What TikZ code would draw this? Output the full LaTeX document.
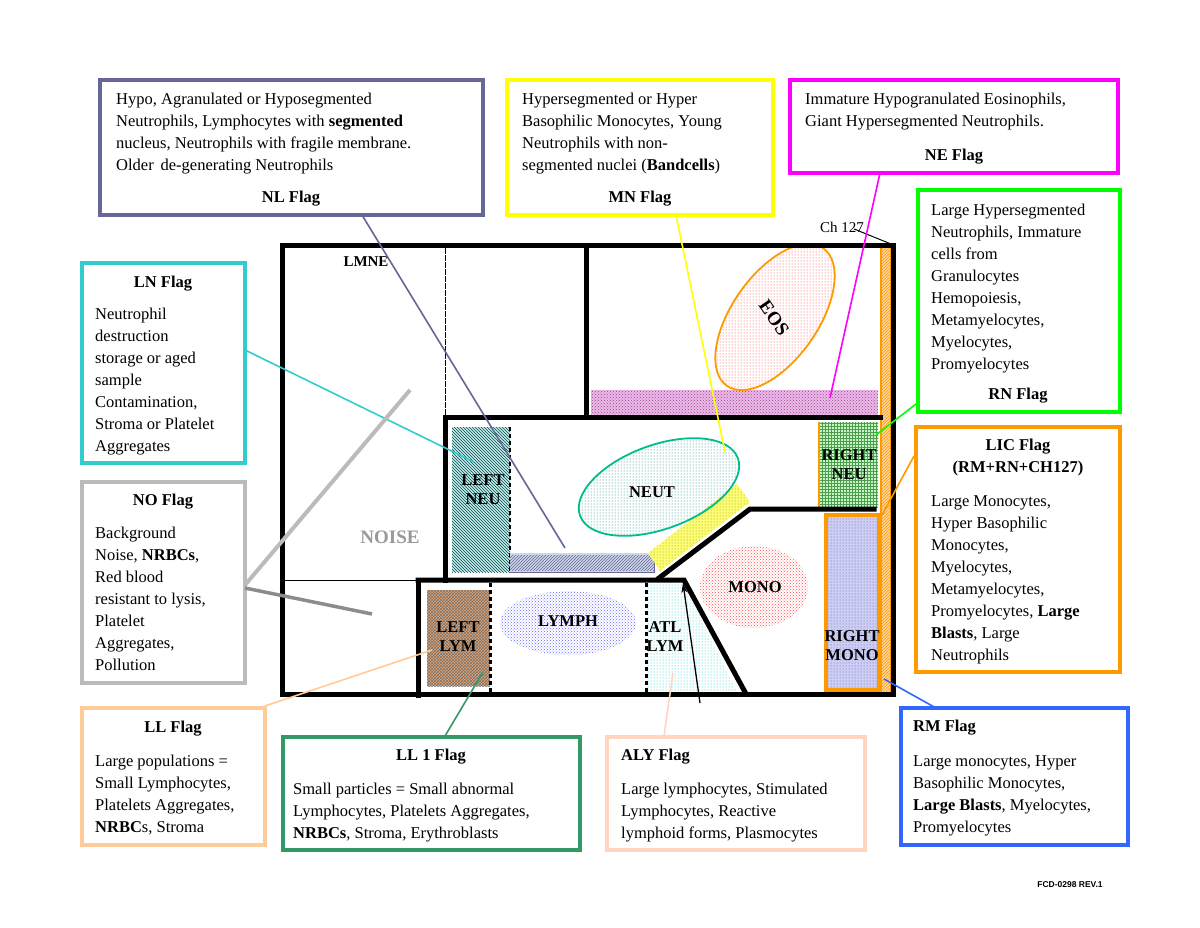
\documentclass[tikz,border=0pt]{standalone}
\usepackage{fontspec}
\setmainfont{Liberation Serif}
\newfontfamily\sansf{Liberation Sans}
\usetikzlibrary{patterns,arrows.meta,shapes.geometric}
\definecolor{cNL}{HTML}{666699}
\definecolor{cMN}{HTML}{FFFF00}
\definecolor{cNE}{HTML}{FF00FF}
\definecolor{cRN}{HTML}{00FF00}
\definecolor{cLIC}{HTML}{FF9900}
\definecolor{cRM}{HTML}{3366FF}
\definecolor{cLN}{HTML}{33CCCC}
\definecolor{cNO}{HTML}{BBBBBB}
\definecolor{cLL}{HTML}{FFCC99}
\definecolor{cLLone}{HTML}{339966}
\definecolor{cALY}{HTML}{FFD5C0}
\definecolor{fPink}{HTML}{F5B4F0}
\definecolor{fRN}{HTML}{C8F5C8}
\definecolor{fLN}{HTML}{C8EBEB}
\definecolor{fBar}{HTML}{CDD7E6}
\definecolor{fYel}{HTML}{FFFF6E}
\definecolor{cNeut}{HTML}{00BE8C}
\definecolor{fRM}{HTML}{CDCDFA}
\definecolor{fStrip}{HTML}{FFD7A0}
\definecolor{fLL}{HTML}{EBA46A}
\begin{document}
\begin{tikzpicture}[x=1pt,y=-1pt,
  fbox/.style={draw=#1,line width=4.5pt,inner sep=0,fill=white},
  txt/.style={anchor=north west,align=left,inner sep=0,font=\fontsize{16.5}{22}\selectfont},
  ttl/.style={inner sep=0,font=\fontsize{16.5}{22}\selectfont\bfseries},
  lab/.style={inner sep=0,align=center,font=\fontsize{16.5}{19}\selectfont\bfseries},
  lead/.style={draw=#1,line width=1.6pt},
  thick line/.style={line width=5pt,line cap=rect},
  dashv/.style={line width=3pt,dash pattern=on 4pt off 3pt}]
\useasboundingbox (0,0) rectangle (1200,927);
\fill[white] (0,0) rectangle (1200,927);

% ---------- flag boxes ----------
\node[fbox=cNL,minimum width=383,minimum height=135] (NL) at (291.5,147.5) {};
\node[txt] at (116,93) {Hypo, Agranulated or Hyposegmented\\Neutrophils, Lymphocytes with \textbf{segmented}\\nucleus, Neutrophils with fragile membrane.\\Older\, de-generating Neutrophils};
\node[ttl] at (291,199) {NL Flag};

\node[fbox=cMN,minimum width=266,minimum height=135] (MN) at (640,147.5) {};
\node[txt] at (522,93) {Hypersegmented or Hyper\\Basophilic Monocytes, Young\\Neutrophils with non-\\segmented nuclei (\textbf{Bandcells})};
\node[ttl] at (640,199) {MN Flag};

\node[fbox=cNE,minimum width=328,minimum height=93] (NE) at (954,126.5) {};
\node[txt] at (805,93) {Immature Hypogranulated Eosinophils,\\Giant Hypersegmented Neutrophils.};
\node[ttl] at (954,157) {NE Flag};

\node[fbox=cRN,minimum width=202,minimum height=222] (RN) at (1019,301) {};
\node[txt] at (931,204) {Large Hypersegmented\\Neutrophils, Immature\\cells from\\Granulocytes\\Hemopoiesis,\\Metamyelocytes,\\Myelocytes,\\Promyelocytes};
\node[ttl] at (1018,396) {RN Flag};

\node[fbox=cLIC,minimum width=204,minimum height=245] (LIC) at (1018,549.5) {};
\node[ttl] at (1018,447) {LIC Flag};
\node[ttl] at (1018,469) {(RM+RN+CH127)};
\node[txt] at (931,495) {Large Monocytes,\\Hyper Basophilic\\Monocytes,\\Myelocytes,\\Metamyelocytes,\\Promyelocytes, \textbf{Large}\\\textbf{Blasts}, Large\\Neutrophils};

\node[fbox=cRM,minimum width=227,minimum height=137] (RM) at (1014.5,776.5) {};
\node[ttl,anchor=west] at (913,728) {RM Flag};
\node[txt] at (913,755) {Large monocytes, Hyper\\Basophilic Monocytes,\\\textbf{Large Blasts}, Myelocytes,\\Promyelocytes};

\node[fbox=cLN,minimum width=163,minimum height=200] (LN) at (163.5,363) {};
\node[ttl] at (163,284) {LN Flag};
\node[txt] at (95,308) {Neutrophil\\destruction\\storage or aged\\sample\\Contamination,\\Stroma or Platelet\\Aggregates};

\node[fbox=cNO,minimum width=163,minimum height=201] (NO) at (163.5,582.5) {};
\node[ttl] at (163,502) {NO Flag};
\node[txt] at (95,527) {Background\\Noise, \textbf{NRBCs},\\Red blood\\resistant to lysis,\\Platelet\\Aggregates,\\Pollution};

\node[fbox=cLL,minimum width=183,minimum height=137] (LL) at (173.5,776.5) {};
\node[ttl] at (173,729) {LL Flag};
\node[txt] at (95,755) {Large populations =\\Small Lymphocytes,\\Platelets Aggregates,\\\textbf{NRBC}s, Stroma};

\node[fbox=cLLone,minimum width=297,minimum height=113] (LLone) at (431.5,793.5) {};
\node[ttl] at (431,757) {LL 1 Flag};
\node[txt] at (293,783) {Small particles = Small abnormal\\Lymphocytes, Platelets Aggregates,\\\textbf{NRBCs}, Stroma, Erythroblasts};

\node[fbox=cALY,minimum width=258,minimum height=113] (ALY) at (736,793.5) {};
\node[ttl,anchor=west] at (621,757) {ALY Flag};
\node[txt] at (621,783) {Large lymphocytes, Stimulated\\Lymphocytes, Reactive\\lymphoid forms, Plasmocytes};

\node[font=\sansf\bfseries\fontsize{8.5}{9}\selectfont,inner sep=0] (FCD) at (1070,885) {FCD-0298 REV.1};

% ---------- scatter regions ----------
\fill[fPink] (591,390) rectangle (878,415);
\fill[pattern=crosshatch dots,pattern color=black!60] (591,390) rectangle (878,415);
\draw[cLIC,line width=1.8pt,pattern=dots,pattern color=red!80] (775,317) ellipse [x radius=84,y radius=43,rotate=55];
\node[lab,rotate=-55,font=\fontsize{19}{20}\selectfont\bfseries] (EOS) at (774,318) {EOS};
\fill[fRN] (819,422) rectangle (878,507);
\fill[pattern=grid,pattern color=green!45!black!70] (819,422) rectangle (878,507);
\draw[cLIC,line width=1.2pt] (819,422) -- (819,507);
\node[lab] (RNEU) at (849,465) {RIGHT\\NEU};
\fill[fLN] (452,427) rectangle (510,572);
\fill[pattern=north west lines,pattern color=teal!60!black] (452,427) rectangle (510,572);
\node[lab] (LNEU) at (483,490) {LEFT\\NEU};
\draw[dashv,line width=2pt] (510,427) -- (510,572);
\fill[fBar] (510,553) rectangle (654,572);
\fill[pattern=north east lines,pattern color=cNL] (510,555) rectangle (654,570);
\draw[cNL,line width=1pt] (510,572) -- (654,572) -- (654,553);
\fill[fYel] (648,553) -- (737,484) -- (750,502) -- (660,571) -- cycle;
\fill[pattern=dots,pattern color=black!50] (648,553) -- (737,484) -- (750,502) -- (660,571) -- cycle;
\draw[cNeut,line width=1.8pt,pattern=dots,pattern color=teal] (659,487) ellipse [x radius=84,y radius=42,rotate=20];
\node[lab] (NEUT) at (652,492) {NEUT};
\fill[pattern=crosshatch dots,pattern color=red!70] (754,587) ellipse [x radius=54,y radius=41];
\node[lab] (MONO) at (755,587) {MONO};
\fill[fRM] (826,515) rectangle (879,690);
\fill[pattern=dots,pattern color=black!60] (826,515) rectangle (879,690);
\draw[cLIC,line width=3.5pt] (826,515) rectangle (879,690);
\node[lab] (RMONO) at (852,646) {RIGHT\\MONO};
\fill[fStrip] (881,245) rectangle (891,693);
\fill[pattern=north east lines,pattern color=cLIC] (881,245) rectangle (891,693);
\draw[cLIC,line width=1.5pt] (881,245) rectangle (891,693);
\fill[fLL] (427,590) rectangle (490,686);
\fill[pattern=crosshatch,pattern color=black!55] (427,590) rectangle (490,686);
\node[lab] (LLYM) at (458,637) {LEFT\\LYM};
\fill[pattern=crosshatch dots,pattern color=blue!60] (568,623) ellipse [x radius=68,y radius=32];
\node[lab] (LYMPH) at (568,621) {LYMPH};
\fill[pattern=dots,pattern color=cyan!80!black] (647,583) -- (684,583) -- (737,692) -- (647,692) -- cycle;
\node[lab] (ATL) at (665,637) {ATL\\LYM};

% ---------- frame lines ----------
\draw[line width=1pt,dash pattern=on 6pt off 1pt] (445,248) -- (445,417);
\draw[line width=1pt] (283,580) -- (418,580);
\draw[thick line] (586,245) -- (586,417);
\draw[thick line] (445,417) -- (880,417);
\draw[thick line] (445,417) -- (445,580);
\draw[thick line] (418,580) -- (684,580) -- (745,692);
\draw[thick line] (418,580) -- (418,695);
\draw[thick line] (659,578) -- (750,509) -- (874,509);
\draw[dashv] (490,583) -- (490,693);
\draw[dashv] (646,583) -- (646,693);
\draw[thick line] (282,245) rectangle (893,694);
\draw[-{Stealth[length=10pt,width=6pt]},line width=1.3pt] (700,703) -- (683,583);

\node[inner sep=0,font=\fontsize{15}{16}\selectfont\bfseries] (LMNE) at (366,262) {LMNE};
\node[inner sep=0,font=\fontsize{19}{20}\selectfont\bfseries,text=black!40] (NOISE) at (390,537) {NOISE};
\node[inner sep=0,font=\fontsize{15}{16}\selectfont] (CH) at (842,227) {Ch 127};
\coordinate (chEnd) at (891,244);
\draw[line width=1pt] (CH.east) ++(-10,2) -- (chEnd);

% ---------- leader lines ----------
\coordinate (nlA) at (362,215); \coordinate (nlB) at (565,548);
\draw[lead=cNL] (nlA) -- (nlB);
\coordinate (mnA) at (676,215); \coordinate (mnB) at (725,452);
\draw[lead=cMN] (mnA) -- (mnB);
\coordinate (neA) at (880,173); \coordinate (neB) at (830,398);
\draw[lead=cNE] (neA) -- (neB);
\coordinate (rnA) at (916,404); \coordinate (rnB) at (876,435);
\draw[lead=cRN] (rnA) -- (rnB);
\coordinate (licA) at (914,456); \coordinate (licB) at (882,515);
\draw[lead=cLIC] (licA) -- (licB);
\coordinate (rmA) at (884,679); \coordinate (rmB) at (936,708);
\draw[lead=cRM] (rmA) -- (rmB);
\coordinate (lnA) at (245,350); \coordinate (lnB) at (474,462);
\draw[lead=cLN] (lnA) -- (lnB);
\coordinate (noA) at (410,390); \coordinate (noB) at (245,585); \coordinate (noC) at (372,614);
\draw[draw=cNO,line width=4pt] (noA) -- (noB);
\draw[draw=black!45,line width=3.5pt] (noB) ++(0,3) -- (noC);
\coordinate (llA) at (265,706); \coordinate (llB) at (432,650);
\draw[lead=cLL] (llA) -- (llB);
\coordinate (l1A) at (445,736); \coordinate (l1B) at (483,672);
\draw[lead=cLLone] (l1A) -- (l1B);
\coordinate (alA) at (664,736); \coordinate (alB) at (673,673);
\draw[lead=cALY] (alA) -- (alB);
\end{tikzpicture}
\end{document}
